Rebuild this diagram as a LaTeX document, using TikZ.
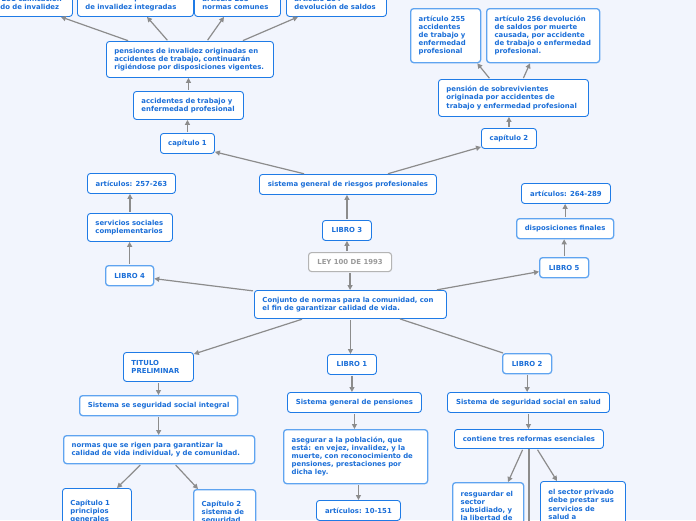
\documentclass[tikz,border=0pt]{standalone}
\usepackage{fontspec}
\setmainfont{DejaVu Sans}
\usepackage{tikz}
\usetikzlibrary{arrows.meta}
\definecolor{mmbg}{HTML}{F2F5FD}
\definecolor{mmtext}{HTML}{1A6ED8}
\definecolor{mmborder}{HTML}{1F7BE6}
\definecolor{mmlight}{HTML}{5FA4F0}
\definecolor{mmgray}{HTML}{8C8C8C}
\definecolor{mmleyborder}{HTML}{B4B4B4}
\definecolor{mmleytext}{HTML}{9A9A9A}
\begin{document}
\begin{tikzpicture}[x=1pt,y=-1pt,
  topic/.style={draw=mmborder, fill=white, rounded corners=3pt, line width=0.9pt,
    text=mmtext, font=\bfseries\fontsize{6.9}{8.1}\selectfont, anchor=north west,
    inner xsep=2pt, inner ysep=2pt},
  multi/.style={topic, align=left, inner xsep=8pt},
  light/.style={draw=mmlight, line width=1.3pt},
  ley/.style={topic, draw=mmleyborder, text=mmleytext, line width=1.1pt},
  link/.style={draw=mmgray, line width=1.2pt, -{Triangle[length=5pt,width=5pt]}, shorten <=1pt},
  plainlink/.style={draw=mmgray, line width=1.2pt}]
\useasboundingbox (0,0) rectangle (696,520);
\clip (0,0) rectangle (696,520);
\fill[mmbg] (0,0) rectangle (696,520);
% capitulo 1 branch
\node[multi, text width=95pt, minimum height=27pt] (art251) at (-39,-11) {artículo 251 calificación\\del estado de invalidez};
\node[multi, text width=100pt, minimum height=27pt] (art252) at (77,-11) {artículo 252 pensiones\\de invalidez integradas};
\node[multi, text width=70pt, minimum height=27pt] (art253) at (194,-11) {artículo 253\\normas comunes};
\node[multi, text width=84pt, minimum height=27pt] (art254) at (286,-11) {artículo 254\\devolución de saldos};
\node[multi, text width=151pt, minimum height=36pt] (pinv) at (106,41) {pensiones de invalidez originadas en\\accidentes de trabajo, continuarán\\rigiéndose por disposiciones vigentes.};
\node[multi, text width=94pt, minimum height=28pt] (acctrab) at (133,91) {accidentes de trabajo y\\enfermedad profesional};
\node[topic, minimum width=54pt, minimum height=20pt] (cap1) at (160,133) {capítulo 1};
% capitulo 2 branch
\node[multi, light, text width=54pt, minimum height=54pt] (art255) at (410,8) {artículo 255\\accidentes\\de trabajo y\\enfermedad\\profesional};
\node[multi, light, text width=97pt, minimum height=54pt] (art256) at (486,8) {artículo 256 devolución\\de saldos por muerte\\causada, por accidente\\de trabajo o enfermedad\\profesional.};
\node[multi, text width=134pt, minimum height=37pt] (psobre) at (438,79) {pensión de sobrevivientes\\originada por accidentes de\\trabajo y enfermedad profesional};
\node[topic, minimum width=55pt, minimum height=20pt] (cap2) at (481,128) {capítulo 2};
% libros
\node[topic, minimum width=88pt, minimum height=20pt] (art257) at (87,173) {artículos: 257-263};
\node[multi, text width=69pt, minimum height=28pt] (servsoc) at (87,213) {servicios sociales\\complementarios};
\node[topic, light, minimum width=48pt, minimum height=20pt] (libro4) at (105,265) {LIBRO 4};
\node[topic, minimum width=177pt, minimum height=20pt] (sgriesgos) at (259,174) {sistema general de riesgos profesionales};
\node[topic, minimum width=49pt, minimum height=20pt] (libro3) at (322,220) {LIBRO 3};
\node[ley, minimum width=83pt, minimum height=19pt] (ley) at (308,252) {LEY 100 DE 1993};
\node[multi, text width=176pt, minimum height=28pt] (conjunto) at (254,290) {Conjunto de normas para la comunidad, con\\el fin de garantizar calidad de vida.};
\node[topic, light, minimum width=49pt, minimum height=20pt] (libro5) at (539,257) {LIBRO 5};
\node[topic, light, minimum width=97pt, minimum height=20pt] (dispfin) at (516,218) {disposiciones finales};
\node[topic, minimum width=89pt, minimum height=20pt] (art264) at (521,183) {artículos: 264-289};
% titulo preliminar
\node[multi, text width=54pt, minimum height=29pt] (titulo) at (123,352) {TITULO\\PRELIMINAR};
\node[topic, light, minimum width=158pt, minimum height=20pt] (ssintegral) at (79,395) {Sistema se seguridad social integral};
\node[multi, light, text width=175pt, minimum height=28pt] (normas) at (63,435) {normas que se rigen para garantizar la\\calidad de vida individual, y de comunidad.};
\node[multi, text width=53pt, minimum height=46pt] (capi1) at (62,488) {Capítulo 1\\principios\\generales\\};
\node[multi, light, text width=46pt, minimum height=46pt] (capi2) at (193,489) {Capítulo 2\\sistema de\\seguridad\\};
% libro 1
\node[topic, minimum width=49pt, minimum height=20pt] (libro1) at (327,354) {LIBRO 1};
\node[topic, minimum width=134pt, minimum height=20pt] (sgpens) at (287,392) {Sistema general de pensiones};
\node[multi, light, text width=128pt, minimum height=54pt] (asegurar) at (283,429) {asegurar a la población, que\\está: en vejez, invalidez, y la\\muerte, con reconocimiento de\\pensiones, prestaciones por\\dicha ley.};
\node[topic, minimum width=84pt, minimum height=20pt] (art10) at (316,500) {artículos: 10-151};
% libro 2
\node[topic, light, minimum width=49pt, minimum height=20pt] (libro2) at (502,353) {LIBRO 2};
\node[topic, minimum width=162pt, minimum height=20pt] (sssalud) at (447,392) {Sistema de seguridad social en salud};
\node[topic, minimum width=149pt, minimum height=19pt] (contiene) at (454,429) {contiene tres reformas esenciales};
\node[multi, light, text width=55pt, minimum height=46pt] (resguardar) at (452,482) {resguardar el\\sector\\subsidiado, y\\la libertad de};
\node[multi, text width=69pt, minimum height=46pt] (privado) at (540,481) {el sector privado\\debe prestar sus\\servicios de\\salud a};
\coordinate (contdown) at (529,530);
% connectors
\draw[link] ([xshift=23pt]pinv.north west) -- ([xshift=-12pt]art251.south east);
\draw[link] ([xshift=62pt]pinv.north west) -- ([xshift=70pt]art252.south west);
\draw[link] ([xshift=101pt]pinv.north west) -- ([xshift=30pt]art253.south west);
\draw[link] ([xshift=136pt]pinv.north west) -- ([xshift=12pt]art254.south west);
\draw[link] (acctrab.north) -- (acctrab.north |- pinv.south);
\draw[link] (cap1.north) -- (cap1.north |- acctrab.south);
\draw[link] ([xshift=46pt]sgriesgos.north west) -- ([yshift=2pt]cap1.south east);
\draw[link] ([xshift=128pt]sgriesgos.north west) -- ([yshift=2pt]cap2.south west);
\draw[link] (cap2.north) -- (cap2.north |- psobre.south);
\draw[link] ([xshift=52pt]psobre.north west) -- ([xshift=-4pt]art255.south east);
\draw[link] ([xshift=85pt]psobre.north west) -- ([xshift=44pt]art256.south west);
\draw[link] (libro3.north) -- (libro3.north |- sgriesgos.south);
\draw[link] (libro3.south |- ley.north) -- (libro3.south);
\draw[link, line width=1.8pt] (ley.south) -- (ley.south |- conjunto.north);
\draw[link] ([yshift=-1pt]conjunto.north west) -- ([yshift=-3pt]libro4.east);
\draw[link] (libro4.north) -- (libro4.north |- servsoc.south);
\draw[link] (servsoc.north) -- (servsoc.north |- art257.south);
\draw[link] ([xshift=-11pt]conjunto.north east) -- ([yshift=-4pt]libro5.west);
\draw[link] (libro5.north) -- (libro5.north |- dispfin.south);
\draw[link] (dispfin.north) -- (dispfin.north |- art264.south);
\draw[link] ([xshift=49pt]conjunto.south west) -- ([yshift=-2pt]titulo.north east);
\draw[link] (titulo.south) -- (titulo.south |- ssintegral.north);
\draw[link] (ssintegral.south) -- (ssintegral.south |- normas.north);
\draw[link] ([xshift=78pt]normas.south west) -- ([xshift=55pt]capi1.north west);
\draw[link] ([xshift=112pt]normas.south west) -- ([xshift=5pt]capi2.north west);
\draw[link] (conjunto.south) -- (conjunto.south |- libro1.north);
\draw[link] (libro1.south) -- (libro1.south |- sgpens.north);
\draw[link] (sgpens.south) -- (sgpens.south |- asegurar.north);
\draw[link] (art10.north |- asegurar.south) -- (art10.north);
\draw[plainlink] ([xshift=146pt]conjunto.south west) -- ([xshift=1pt]libro2.north west);
\draw[link] (libro2.south) -- (libro2.south |- sssalud.north);
\draw[link] (sssalud.south) -- (sssalud.south |- contiene.north);
\draw[link] ([xshift=69pt]contiene.south west) -- ([xshift=56pt]resguardar.north west);
\draw[link] ([xshift=83pt]contiene.south west) -- ([xshift=17pt]privado.north west);
\draw[plainlink] (contiene.south -| contdown) -- (contdown);
\end{tikzpicture}
\end{document}
